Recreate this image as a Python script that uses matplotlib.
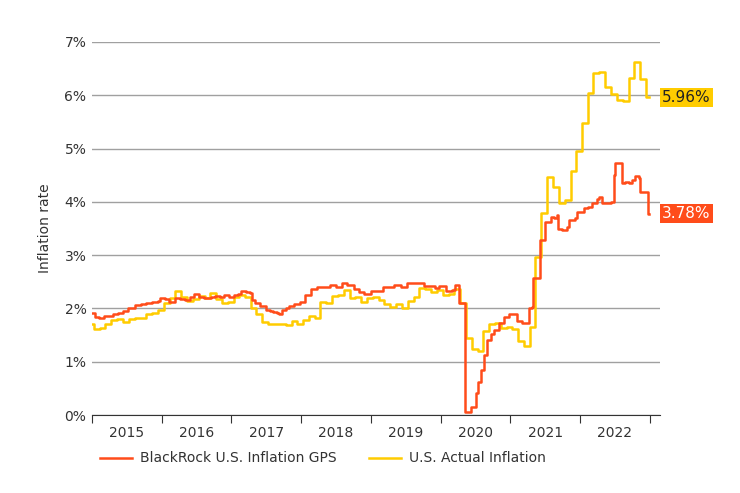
import pandas as pd
import matplotlib.pyplot as plt
import numpy as np

# Core CPI YoY (%), month of data -> stepped in at release (~12th of next month)
cpi_months = pd.period_range('2014-11', '2022-11', freq='M')
cpi_values = [1.70, 1.61,
              1.64, 1.70, 1.78, 1.81, 1.74, 1.80, 1.82, 1.83, 1.89, 1.91, 1.98, 2.10,
              2.20, 2.33, 2.21, 2.14, 2.18, 2.24, 2.19, 2.29, 2.17, 2.10, 2.13, 2.21,
              2.26, 2.22, 2.00, 1.89, 1.74, 1.70, 1.71, 1.70, 1.69, 1.77, 1.70, 1.78,
              1.85, 1.83, 2.12, 2.10, 2.24, 2.26, 2.35, 2.20, 2.22, 2.13, 2.20, 2.21,
              2.15, 2.08, 2.03, 2.08, 2.00, 2.14, 2.21, 2.39, 2.36, 2.30, 2.34, 2.26,
              2.27, 2.37, 2.10, 1.44, 1.24, 1.21, 1.57, 1.71, 1.73, 1.63, 1.65, 1.62,
              1.39, 1.29, 1.65, 2.96, 3.80, 4.47, 4.27, 3.98, 4.04, 4.58, 4.96, 5.48,
              6.04, 6.41, 6.44, 6.15, 6.02, 5.91, 5.90, 6.32, 6.63, 6.30, 5.96]

# BlackRock GPS (decimal year, %)
gps_dates = [2015.00, 2015.04, 2015.10, 2015.17, 2015.23, 2015.30, 2015.37, 2015.44, 2015.52, 2015.61,
             2015.70, 2015.78, 2015.86, 2015.94, 2015.97, 2016.05, 2016.11, 2016.19, 2016.26, 2016.33,
             2016.40, 2016.47, 2016.53, 2016.60, 2016.70, 2016.76, 2016.83, 2016.90, 2016.96, 2017.04,
             2017.10, 2017.14, 2017.21, 2017.26, 2017.29, 2017.34, 2017.41, 2017.49, 2017.55, 2017.59,
             2017.65, 2017.68, 2017.72, 2017.78, 2017.83, 2017.90, 2017.99, 2018.06, 2018.14, 2018.23,
             2018.32, 2018.42, 2018.50, 2018.59, 2018.66, 2018.76, 2018.83, 2018.90, 2019.00, 2019.09,
             2019.17, 2019.33, 2019.43, 2019.52, 2019.66, 2019.76, 2019.85, 2019.92, 2019.97, 2020.07,
             2020.16, 2020.21, 2020.26, 2020.35, 2020.43, 2020.50, 2020.53, 2020.58, 2020.62, 2020.67,
             2020.72, 2020.77, 2020.84, 2020.91, 2020.98, 2021.08, 2021.10, 2021.17, 2021.27, 2021.31,
             2021.33, 2021.43, 2021.50, 2021.58, 2021.62, 2021.67, 2021.69, 2021.74, 2021.81, 2021.84,
             2021.93, 2021.95, 2022.05, 2022.12, 2022.17, 2022.24, 2022.27, 2022.31, 2022.41, 2022.45,
             2022.48, 2022.50, 2022.58, 2022.60, 2022.65, 2022.70, 2022.75, 2022.79, 2022.84, 2022.86,
             2022.96, 2022.98, 2022.99]
gps_values = [1.92, 1.84, 1.83, 1.85, 1.85, 1.90, 1.92, 1.96, 2.00, 2.06,
              2.08, 2.10, 2.12, 2.14, 2.19, 2.17, 2.13, 2.19, 2.18, 2.16,
              2.22, 2.28, 2.22, 2.20, 2.22, 2.24, 2.22, 2.25, 2.22, 2.26,
              2.28, 2.33, 2.31, 2.29, 2.15, 2.10, 2.04, 1.98, 1.96, 1.94,
              1.92, 1.89, 1.98, 2.01, 2.04, 2.08, 2.13, 2.25, 2.36, 2.41,
              2.40, 2.44, 2.40, 2.47, 2.44, 2.37, 2.31, 2.28, 2.32, 2.33,
              2.41, 2.44, 2.41, 2.48, 2.47, 2.42, 2.43, 2.38, 2.42, 2.32,
              2.35, 2.44, 2.10, 0.06, 0.16, 0.41, 0.62, 0.84, 1.13, 1.41,
              1.53, 1.60, 1.72, 1.84, 1.89, 1.89, 1.77, 1.72, 2.00, 2.03,
              2.57, 3.28, 3.63, 3.72, 3.69, 3.75, 3.50, 3.47, 3.53, 3.66,
              3.69, 3.81, 3.88, 3.91, 3.97, 4.05, 4.10, 3.97, 3.97, 3.99,
              4.50, 4.72, 4.72, 4.35, 4.38, 4.35, 4.41, 4.48, 4.45, 4.19,
              4.19, 3.78, 3.78]

years = [2015, 2016, 2017, 2018, 2019, 2020, 2021, 2022]

RED = '#ff4c1a'
YELLOW = '#ffcc00'
TXT = '#333333'

plt.rcParams['font.family'] = ['DejaVu Sans']

# release timing of CPI prints as decimal years
rel = cpi_months.to_timestamp() + pd.DateOffset(months=1, days=11)
cpi_dates = rel.year + (rel.dayofyear - 1) / 365.0
cpi_x = list(cpi_dates) + [2022.99]
cpi_y = list(cpi_values) + [cpi_values[-1]]
# clip the first point to the axis start
cpi_x[0] = 2015.0

fig = plt.figure(figsize=(7.4, 4.93), dpi=100)
ax = fig.add_axes([0.1243, 0.158, 0.768, 0.757])

ax.plot(cpi_x, cpi_y, drawstyle='steps-post', color=YELLOW, lw=1.8,
        label='U.S. Actual Inflation', zorder=3)
ax.plot(gps_dates, gps_values, drawstyle='steps-post', color=RED, lw=1.8,
        label='BlackRock U.S. Inflation GPS', zorder=4)

ax.set_xlim(2015.0, 2023.15)
ax.set_ylim(0, 7)
ax.set_yticks(np.arange(0, 8, 1))
ax.set_yticklabels([f'{v}%' for v in range(8)])
ax.yaxis.grid(True, color='#a0a0a0', lw=1)
ax.set_axisbelow(True)

ax.set_xticks(years + [2023])
ax.set_xticklabels([])
ax.set_xticks([y + 0.5 for y in years], minor=True)
ax.set_xticklabels([str(y) for y in years], minor=True)
ax.tick_params(axis='x', which='major', length=6, color=TXT, direction='out')
ax.tick_params(axis='x', which='minor', length=0, pad=8, labelsize=10, labelcolor=TXT)
ax.tick_params(axis='y', length=0, pad=4, labelsize=10, labelcolor=TXT)

for s in ['top', 'right', 'left']:
    ax.spines[s].set_visible(False)
ax.spines['bottom'].set_color(TXT)

ax.set_ylabel('Inflation rate', fontsize=10, color=TXT, labelpad=9)

ax.annotate(f'{cpi_values[-1]:.2f}%', xy=(1.003, cpi_values[-1]),
            xycoords=('axes fraction', 'data'), ha='left', va='center',
            fontsize=11, color='#222222',
            bbox=dict(boxstyle='square,pad=0.15', fc=YELLOW, ec='none'))
ax.annotate(f'{gps_values[-1]:.2f}%', xy=(1.003, gps_values[-1]),
            xycoords=('axes fraction', 'data'), ha='left', va='center',
            fontsize=11, color='white',
            bbox=dict(boxstyle='square,pad=0.15', fc=RED, ec='none'))

h, l = ax.get_legend_handles_labels()
fig.legend(h[::-1], l[::-1], loc='center left', bbox_to_anchor=(0.118, 0.07),
           ncol=2, frameon=False, fontsize=10, handlelength=2.3,
           columnspacing=2.3, handletextpad=0.6, labelcolor=TXT)

fig.savefig('out.png', dpi=100)
